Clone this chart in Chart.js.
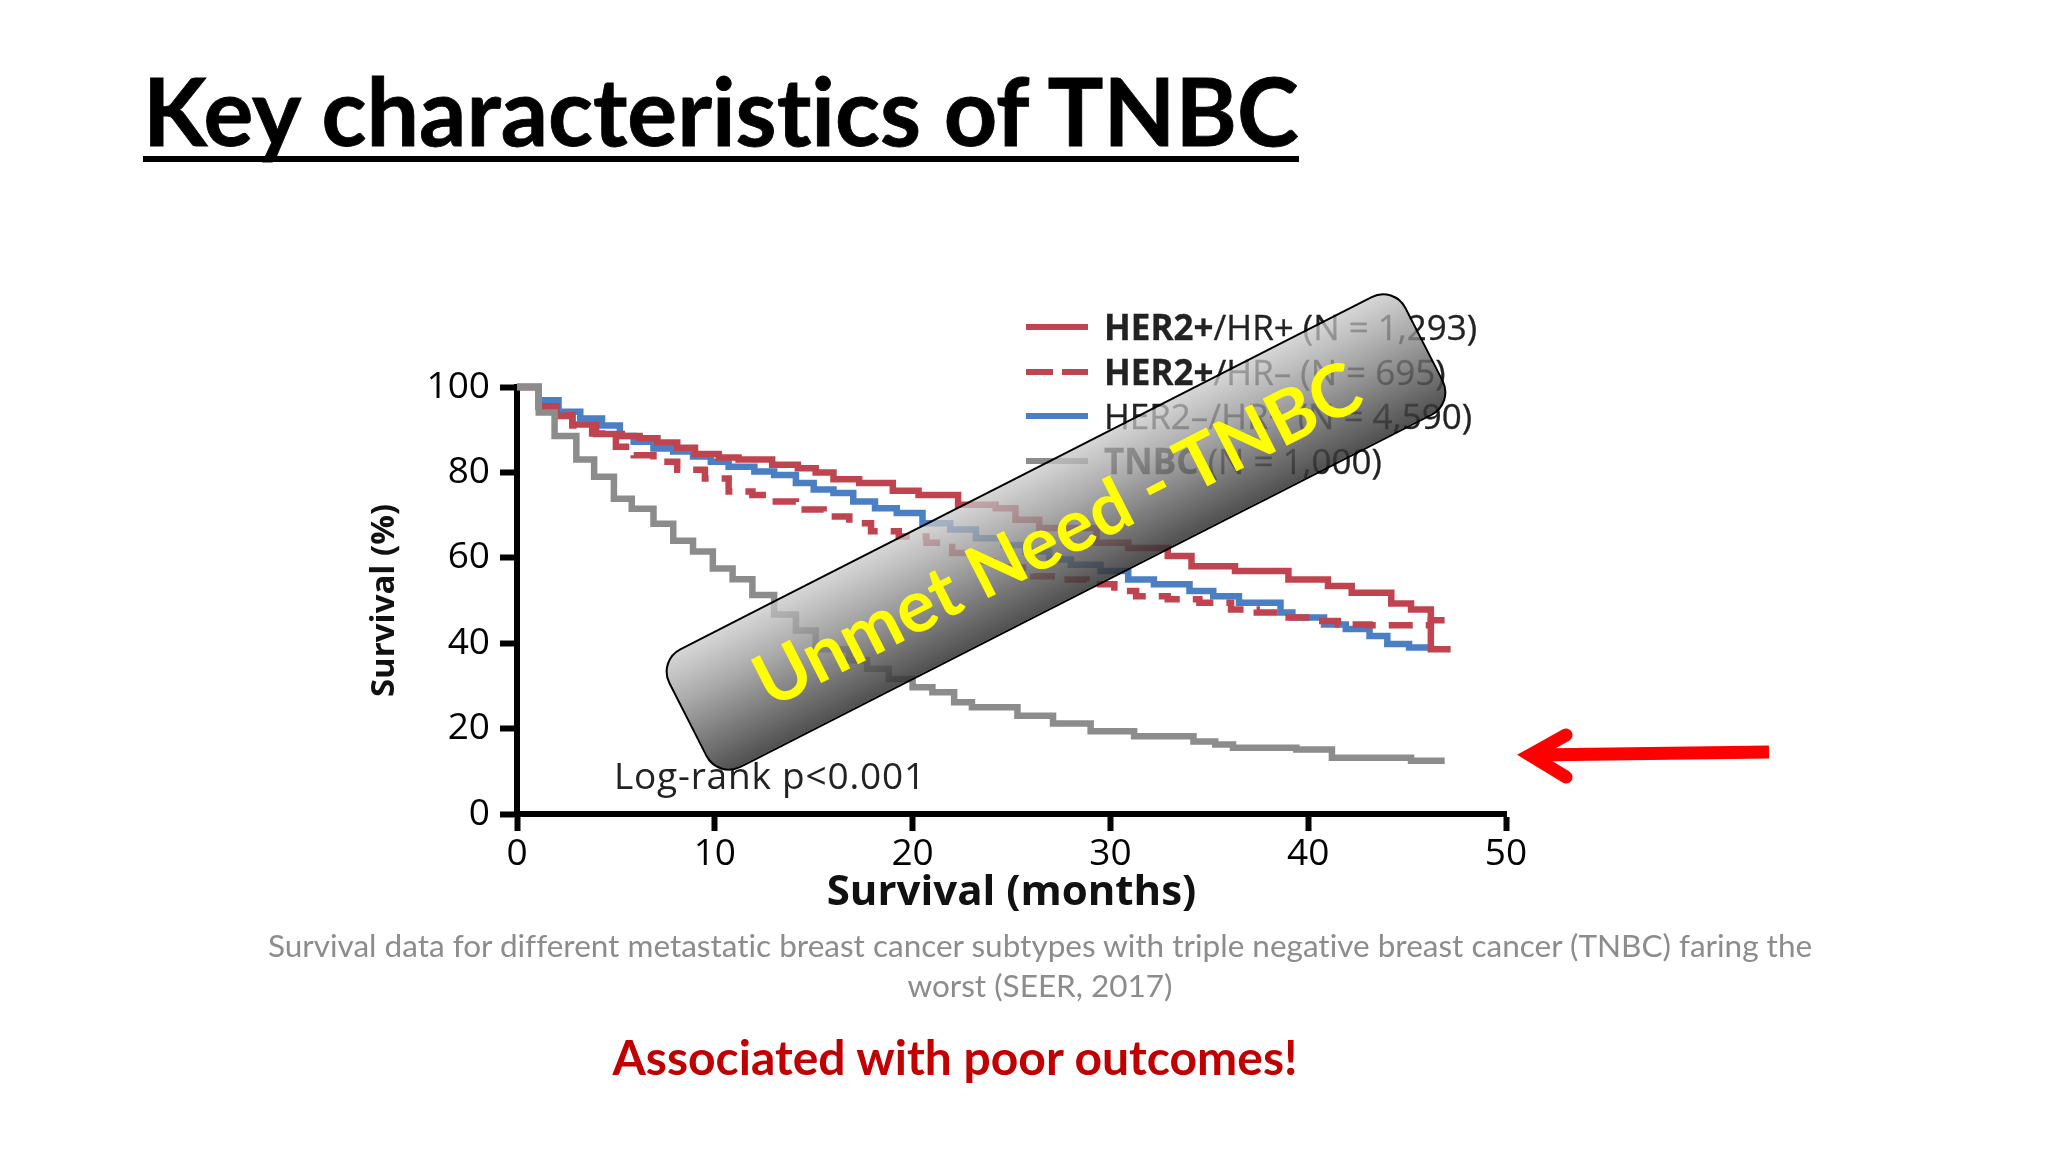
<!DOCTYPE html>
<html>
<head>
<meta charset="utf-8">
<title>Key characteristics of TNBC</title>
<script src="https://cdn.jsdelivr.net/npm/chart.js@4/dist/chart.umd.min.js"></script>
<style>
  html, body { margin: 0; padding: 0; background: #fff; width: 2048px; height: 1152px; overflow: hidden; }
  body { position: relative; font-family: Lato, sans-serif; font-variant-ligatures: none; }
  #grafico { position: absolute; left: 0; top: 0; filter: blur(0.6px); }
  .abs { position: absolute; white-space: nowrap; }
  #titulo { left: 143px; top: 60px; font-size: 93.3px; font-weight: 700; color: #000; line-height: 100px; border-bottom: 6px solid #000; height: 96px; -webkit-text-stroke: 0.8px #000; }
  #legenda { left: 1026px; top: 305px; font-family: "Open Sans", sans-serif; font-size: 35px; color: #222; filter: blur(0.5px); -webkit-text-stroke: 0.3px #222; }
  #legenda .linha { position: absolute; left: 0; height: 44px; line-height: 44px; white-space: nowrap; }
  #legenda svg { position: absolute; left: 0; top: 19px; }
  #legenda span.txt { position: absolute; left: 78px; }
  #faixa { left: 642px; top: 465px; width: 828px; height: 134px; border-radius: 26px; border: 2px solid #000; box-sizing: border-box;
    transform: rotate(-27deg);
    background: linear-gradient(180deg, rgba(200,200,200,.75) 0%, rgba(150,150,150,.8) 35%, rgba(50,50,50,.85) 100%);
    color: #ffff00; font-weight: 700; font-size: 73px; line-height: 130px; text-align: center; }
  #legenda2 { left: 248px; top: 925px; width: 1584px; text-align: center; color: #8c8c8c; font-size: 31.5px; line-height: 40px; white-space: normal; }
  #conclusao { left: 500px; top: 1028px; width: 910px; text-align: center; color: #c00000; font-weight: 700; font-size: 48px; line-height: 58px; }
  #seta { left: 0; top: 0; }
</style>
</head>
<body>
<canvas id="grafico" width="2048" height="1152"></canvas>
<div class="abs" id="titulo">Key characteristics of TNBC</div>
<div class="abs" id="legenda"></div>
<div class="abs" id="faixa">Unmet Need - TNBC</div>
<svg class="abs" id="seta" width="2048" height="1152">
  <path d="M1769 752 L1532 755" fill="none" stroke="#ff0000" stroke-width="13"/>
  <path d="M1566 735 L1530 755 L1566 777" fill="none" stroke="#ff0000" stroke-width="13" stroke-linecap="round" stroke-linejoin="miter"/>
</svg>
<div class="abs" id="legenda2">Survival data for different metastatic breast cancer subtypes with triple negative breast cancer (TNBC) faring the worst (SEER, 2017)</div>
<div class="abs" id="conclusao">Associated with poor outcomes!</div>
<script>
const xTicks = [0, 10, 20, 30, 40, 50];
const yTicks = [0, 20, 40, 60, 80, 100];

const mesesHerPosHrPos = [0, 1.1, 2.0, 2.8, 4.0, 5.3, 6.2, 7.1, 8.1, 9.0, 10.2, 11.2, 12.9, 14.2, 15.1, 16.0, 17.3, 19.0, 20.3, 22.3, 24.2, 25.2, 26.4, 29.3, 30.9, 32.9, 34.1, 36.3, 39.0, 41.0, 42.2, 44.2, 45.2, 46.2, 47.2];
const survHerPosHrPos = [100, 95.5, 93.2, 91.2, 89, 88.5, 88, 87, 85.8, 84.3, 83.5, 83, 81.8, 81, 80, 78.4, 77.5, 75.7, 74.7, 72.4, 71.6, 68.9, 67, 63.5, 62.3, 60.4, 58, 56.9, 54.9, 53.4, 51.8, 49.3, 47.9, 38.6, 38.6];

const mesesHerPosHrNeg = [0, 1.1, 1.9, 2.8, 3.8, 5.0, 5.9, 6.9, 8.1, 9.5, 10.7, 11.9, 12.9, 14.1, 15.5, 16.8, 17.9, 19.3, 20.7, 22.0, 23.2, 24.6, 26.1, 27.3, 28.8, 30.2, 31.3, 32.9, 34.5, 36.1, 37.4, 38.8, 40.2, 41.5, 43.1, 44.9, 46.2, 47.2];
const survHerPosHrNeg = [100, 95.3, 93.4, 91, 89.1, 86, 84, 82.5, 80.6, 78.6, 75.5, 74.7, 73.2, 71.3, 69.7, 68.1, 66.2, 65, 63.5, 61.1, 59.2, 57.7, 55.7, 54.9, 53.8, 52.2, 51, 50.3, 49.5, 47.9, 47.2, 46, 45.2, 44.4, 44.2, 44.2, 45.4, 45.4];

const mesesHerNegHrPos = [0, 1.1, 2.1, 3.2, 4.3, 5.2, 5.9, 6.9, 7.9, 8.9, 9.8, 10.7, 12.0, 13.0, 14.1, 15.0, 16.0, 17.0, 18.1, 19.2, 20.5, 21.9, 23.2, 24.6, 25.7, 26.9, 28.0, 29.5, 30.9, 32.2, 34.0, 35.2, 36.5, 38.6, 39.2, 40.8, 41.9, 43.1, 44.0, 45.1, 46.2];
const survHerNegHrPos = [100, 96.9, 94.2, 92.6, 91, 88.5, 87.2, 85.6, 84.9, 83.7, 82.5, 81.3, 80.2, 79.4, 77.5, 76, 75.2, 73.2, 71.6, 70.5, 68.1, 66.6, 64.6, 63, 61.5, 59.6, 58.4, 56.9, 54.9, 53.8, 52.2, 51, 49.5, 47.2, 46, 44.4, 43.3, 41.7, 39.8, 39, 38.6];

const mesesTnbc = [0, 1.1, 1.9, 3.0, 3.9, 4.9, 5.8, 6.9, 7.9, 8.9, 9.9, 10.9, 11.9, 13.0, 14.1, 15.1, 16.8, 17.7, 18.8, 20.0, 21.0, 22.1, 23.0, 25.3, 27.1, 29.0, 31.2, 34.2, 35.3, 36.2, 39.4, 41.2, 45.2, 46.9];
const survTnbc = [100, 94, 88.5, 83, 79, 73.8, 71.5, 68, 64, 61.5, 57.5, 55, 51.3, 46.7, 43, 38.6, 36, 34, 31.6, 29.7, 28.5, 26.2, 25, 23, 21.2, 19.4, 18.2, 17, 16.3, 15.5, 15.1, 13.2, 12.5, 12.5];

const nomesSeries = ['HER2+/HR+ (N = 1,293)', 'HER2+/HR\u2013 (N = 695)', 'HER2\u2013/HR+ (N = 4,590)', 'TNBC (N = 1,000)'];
const nomesNegrito = ['HER2+', 'HER2+', '', 'TNBC'];
const coresSeries = ['#c0444f', '#c0444f', '#4a7fc4', '#8c8c8c'];
const ordemSeries = [1, 2, 3, 0];
const tracoSeries = [[], [24, 13], [], []];

const pares = (xs, ys) => xs.map((x, i) => ({ x: x, y: ys[i] }));
const todosDados = [
    pares(mesesHerPosHrPos, survHerPosHrPos),
    pares(mesesHerPosHrNeg, survHerPosHrNeg),
    pares(mesesHerNegHrPos, survHerNegHrPos),
    pares(mesesTnbc, survTnbc)
];

// log-rank note sits inside the plot, placed by the scales
const notaLogRank = {
    id: 'notaLogRank',
    afterDatasetsDraw(chart) {
        const { ctx, scales } = chart;
        ctx.save();
        ctx.font = '37px "Open Sans", sans-serif';
        ctx.letterSpacing = '0.8px';
        ctx.fillStyle = '#222';
        ctx.textBaseline = 'middle';
        ctx.fillText('Log-rank p<0.001', scales.x.getPixelForValue(4.9), scales.y.getPixelForValue(8.4));
        ctx.restore();
    }
};

const legendaEl = document.getElementById('legenda');
nomesSeries.forEach((nome, i) => {
    const linha = document.createElement('div');
    linha.className = 'linha';
    linha.style.top = (i * 44.5) + 'px';
    const dash = tracoSeries[i].length ? 'stroke-dasharray="27 9"' : '';
    linha.innerHTML = `<svg width="64" height="6"><line x1="0" y1="3" x2="62" y2="3" stroke="${coresSeries[i]}" stroke-width="6" ${dash}/></svg>`;
    const txt = document.createElement('span');
    txt.className = 'txt';
    const b = document.createElement('b');
    b.innerText = nomesNegrito[i];
    txt.appendChild(b);
    txt.appendChild(document.createTextNode(nome.slice(nomesNegrito[i].length)));
    linha.appendChild(txt);
    legendaEl.appendChild(linha);
});

const meuGrafico = new Chart(document.getElementById('grafico').getContext('2d'), {
    type: 'line',
    data: {
        datasets: todosDados.map((dados, i) => ({
            label: nomesSeries[i],
            data: dados,
            borderColor: coresSeries[i],
            borderWidth: 6.5,
            borderDash: tracoSeries[i],
            order: ordemSeries[i],
            stepped: 'before',
            pointRadius: 0,
            fill: false,
            clip: false
        }))
    },
    options: {
        responsive: false,
        animation: false,
        devicePixelRatio: 1,
        layout: { padding: { left: 365, right: 542, top: 387, bottom: 234 } },
        plugins: { legend: { display: false }, tooltip: { enabled: false } },
        scales: {
            x: {
                type: 'linear',
                min: 0,
                max: 50,
                afterBuildTicks: (scale) => { scale.ticks = xTicks.map(v => ({ value: v })); },
                afterFit: (scale) => { scale.height = 104; },
                border: { display: true, color: '#000', width: 6 },
                grid: { drawOnChartArea: false, drawTicks: true, tickLength: 17, tickWidth: 6, tickColor: '#000' },
                ticks: { color: '#000', font: { family: '"Open Sans", sans-serif', size: 37 }, padding: 1, maxRotation: 0 },
                title: { display: true, text: 'Survival (months)', color: '#111', font: { family: '"Open Sans", sans-serif', size: 42, weight: 'bold' }, padding: 0 }
            },
            y: {
                min: 0,
                max: 100,
                afterBuildTicks: (scale) => { scale.ticks = yTicks.map(v => ({ value: v })); },
                afterFit: (scale) => { scale.width = 152; },
                border: { display: true, color: '#000', width: 6 },
                grid: { drawOnChartArea: false, drawTicks: true, tickLength: 17, tickWidth: 6, tickColor: '#000' },
                ticks: { color: '#000', font: { family: '"Open Sans", sans-serif', size: 37 }, padding: 10 },
                title: { display: true, text: 'Survival (%)', color: '#111', font: { family: '"Open Sans", sans-serif', size: 33, weight: 'bold' }, padding: 0 }
            }
        }
    },
    plugins: [notaLogRank]
});
</script>
</body>
</html>
